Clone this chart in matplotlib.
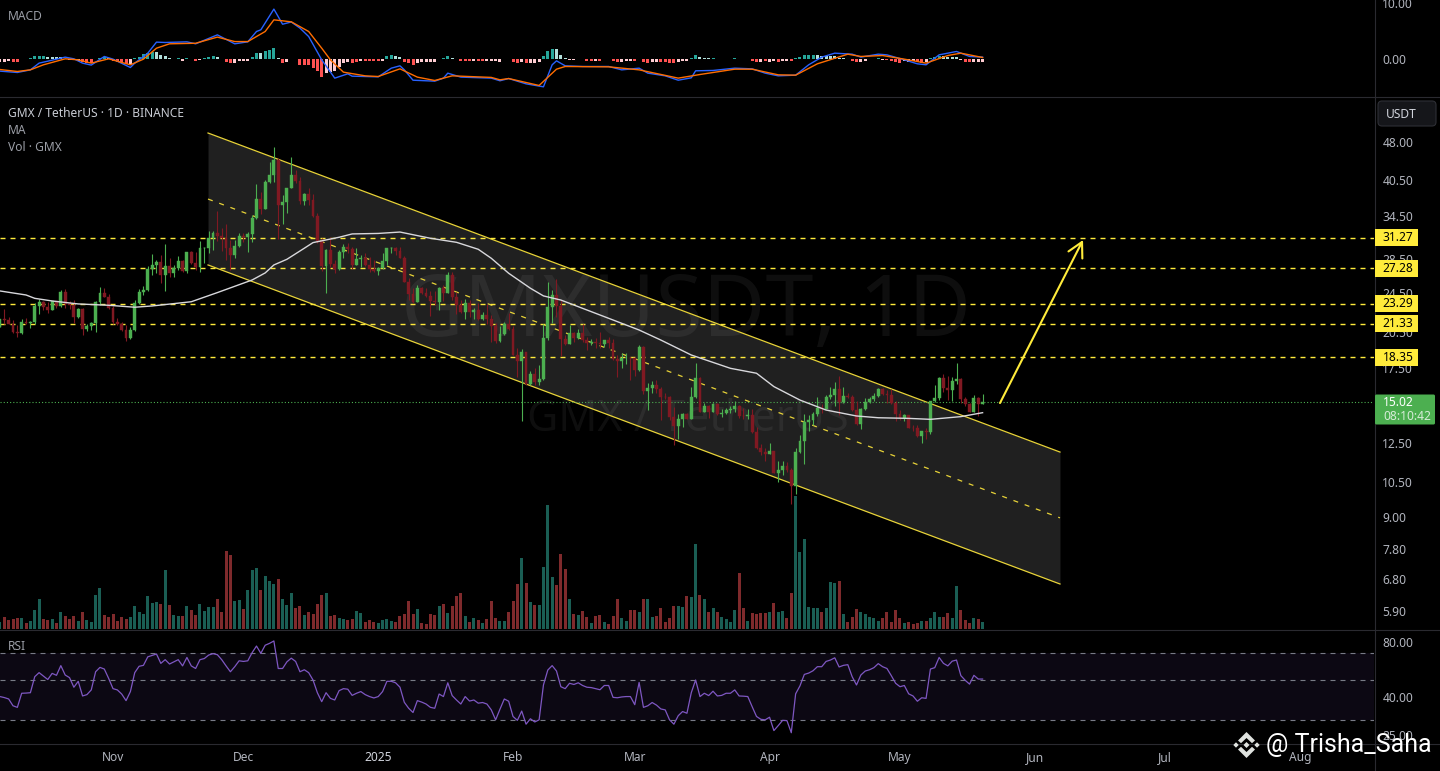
import numpy as np
import matplotlib
matplotlib.use("Agg")
import matplotlib.pyplot as plt
from matplotlib.patches import Rectangle, FancyBboxPatch, Polygon

plt.rcParams['font.family'] = ['Noto Sans', 'DejaVu Sans']
plt.rcParams['lines.scale_dashes'] = False

# ---------------- data: day index counted from 1 Nov 2024 ----------------
first_day = -26
closes = [21.77,21.67,21.29,20.54,20.42,21.45,21.35,21.51,23.07,23.48,
          23.00,22.66,23.61,23.07,24.56,23.28,23.14,22.00,22.76,20.81,
          21.10,21.38,23.48,24.49,24.05,22.87,
          21.48,21.29,20.72,19.96,20.72,23.38,24.56,24.78,27.17,27.71,
          28.08,26.50,27.58,26.74,27.34,28.20,26.97,29.37,27.95,27.45,
          29.90,29.95,31.27,31.97,31.55,31.22,29.90,28.98,30.17,31.55,
          31.36,31.83,34.23,37.20,35.58,40.14,41.43,44.29,36.20,36.71,
          39.08,41.43,40.32,36.88,38.05,37.04,34.49,30.84,27.58,29.63,
          27.83,27.21,29.37,30.00,29.72,27.71,28.42,28.59,27.71,27.17,
          26.97,27.34,28.20,29.90,29.95,29.54,28.59,25.68,24.34,23.48,
          25.00,24.45,24.13,23.59,23.51,25.00,24.45,26.50,24.02,23.18,
          22.46,23.38,22.46,22.66,21.80,22.13,21.77,21.10,19.72,20.36,
          21.29,20.81,18.53,18.04,18.78,16.28,17.03,16.42,16.65,19.99,
          22.97,24.23,23.07,19.90,19.47,20.45,19.99,20.45,19.81,19.55,
          19.67,19.52,19.47,19.81,19.58,18.20,18.04,18.29,18.32,18.25,
          17.33,19.21,15.78,15.99,16.21,15.92,15.36,15.34,14.03,13.49,
          13.92,14.24,13.92,15.36,16.72,14.36,14.75,14.36,14.89,14.24,
          14.32,14.49,14.53,14.75,14.11,14.09,14.15,13.13,12.23,12.01,
          11.90,12.07,10.94,11.08,11.28,11.08,10.32,12.01,12.62,13.74,
          13.86,14.24,14.62,14.57,15.36,15.50,15.92,15.02,15.43,15.34,
          14.47,13.62,14.55,15.02,15.22,15.43,15.92,15.57,15.50,14.95,
          14.24,13.99,14.17,13.37,13.36,12.90,13.19,13.13,15.08,15.29,
          16.72,15.99,15.85,16.50,16.65,15.22,14.89,14.36,15.29,14.89,
          15.02]
highs = [21.77,22.76,22.00,21.67,21.19,21.74,21.84,21.57,23.41,23.77,
         23.61,23.51,23.61,23.55,24.78,24.86,23.61,23.69,22.83,22.83,
         21.29,21.51,23.55,25.08,24.97,24.34,
         23.07,21.84,21.51,21.19,21.03,23.69,24.86,25.23,27.58,29.11,
         28.33,28.98,30.44,28.54,27.71,28.85,28.33,29.37,29.54,29.37,
         30.84,30.03,32.26,32.26,35.26,32.65,33.28,30.98,30.98,32.00,
         31.90,32.16,34.65,39.80,38.39,40.50,43.96,46.88,44.60,37.80,
         39.08,44.90,42.36,41.00,38.17,39.08,38.05,34.90,31.22,29.72,
         31.36,28.33,29.63,30.44,30.62,30.00,29.86,28.98,29.20,28.76,
         28.33,27.46,29.28,29.90,30.08,30.00,30.08,28.85,26.11,24.97,
         25.34,25.15,24.97,24.70,24.70,25.15,25.34,26.85,26.85,24.60,
         23.69,23.80,23.69,22.87,23.35,22.46,23.28,22.16,21.35,21.10,
         21.48,22.33,21.10,19.10,19.00,18.78,17.25,17.46,17.72,21.29,
         25.68,24.78,26.03,23.69,20.26,21.19,20.54,20.81,21.29,20.11,
         19.87,19.96,20.57,19.81,20.11,19.87,18.53,18.67,18.67,18.40,
         18.34,19.38,19.29,16.33,16.50,16.57,16.09,15.62,15.43,14.71,
         14.24,14.32,14.32,16.09,17.86,16.82,14.93,14.82,14.93,14.93,
         14.53,14.60,14.75,15.08,14.82,14.60,14.53,14.53,13.41,12.45,
         12.21,12.52,12.07,11.54,11.54,11.50,11.17,12.23,12.96,14.24,
         14.17,14.38,15.38,14.89,15.50,16.09,16.45,16.87,16.09,15.66,
         15.50,15.10,14.60,15.27,15.38,15.66,16.02,16.02,15.85,15.90,
         15.10,14.49,14.24,14.19,13.57,13.53,13.19,13.35,15.08,16.21,
         16.78,17.03,16.87,16.78,17.86,16.74,15.34,14.93,15.50,15.38,
         15.57]
lows = [21.03,21.29,21.29,20.42,20.11,20.36,21.29,20.91,21.29,22.26,
        22.66,22.39,22.66,22.87,22.94,22.83,22.79,21.35,21.87,20.26,
        20.66,20.72,20.54,23.20,23.98,22.79,
        21.29,21.22,20.66,19.75,19.93,20.66,23.28,24.23,24.67,26.50,
        26.70,25.60,24.70,26.26,26.26,27.09,26.85,26.77,27.83,27.09,
        26.89,27.90,29.20,29.63,30.88,29.50,28.33,27.09,28.55,30.03,
        30.70,29.37,30.75,34.07,34.80,35.58,39.97,40.14,31.08,33.28,
        34.90,39.08,39.90,36.39,36.20,36.20,34.27,30.53,27.00,24.49,
        27.50,26.70,27.09,28.55,29.20,27.21,27.71,27.42,27.58,26.89,
        26.85,26.50,27.21,27.71,29.20,28.98,28.59,25.68,23.69,23.35,
        23.48,24.34,23.98,22.06,23.18,22.66,23.59,24.45,23.69,22.26,
        22.33,21.77,22.00,21.77,21.67,21.67,21.29,19.67,19.52,19.63,
        20.26,20.72,18.53,16.82,13.82,16.21,16.21,16.21,16.21,16.57,
        19.81,21.35,22.00,18.45,19.38,19.47,19.63,19.90,19.67,18.95,
        19.38,19.10,19.10,19.18,19.10,18.12,16.78,17.49,17.80,16.57,
        16.87,17.25,15.58,14.49,15.66,15.66,13.86,15.20,13.86,12.40,
        12.71,13.41,13.90,13.92,15.29,14.36,14.36,13.99,14.36,14.19,
        14.03,14.24,14.28,14.34,13.96,13.90,13.94,13.06,12.18,11.85,
        11.55,11.90,10.92,10.51,10.84,11.00,9.54,9.96,11.95,11.38,
        13.21,13.55,14.11,14.28,14.57,15.24,14.75,14.17,14.97,15.27,
        14.43,13.57,13.31,14.49,14.93,15.08,15.38,15.50,14.93,14.89,
        13.82,13.86,13.78,13.35,13.21,12.82,12.52,12.71,13.02,15.02,
        15.15,15.71,15.15,15.08,16.28,14.97,14.75,14.34,14.36,14.11,
        14.89]
first_open = 21.03

volumes = [22,37,28,31,34,34,19,25,58,91,
           31,28,31,19,52,40,31,40,25,52,
           28,22,103,124,43,37,46,25,37,31,
           37,70,52,46,100,79,82,76,178,73,
           43,40,40,70,58,43,76,55,67,67,
           91,52,235,223,85,88,61,118,178,184,
           118,160,145,136,151,91,73,109,64,70,
           43,52,46,76,103,109,40,43,34,31,
           28,31,55,49,22,28,22,19,28,31,
           25,22,40,46,85,46,61,19,16,46,
           43,70,76,49,70,100,109,40,22,34,
           28,19,31,85,34,25,
           25,52,85,136,214,139,82,73,73,187,
           373,157,133,226,181,91,46,43,55,37,
           19,40,43,22,16,40,91,34,25,58,
           58,52,91,91,37,40,64,22,34,70,
           70,67,100,97,256,103,91,52,64,52,
           37,31,22,58,169,64,25,49,46,49,
           49,52,79,52,55,34,109,400,232,271,
           67,64,64,52,64,142,139,145,46,22,
           37,61,52,46,37,34,25,34,52,22,
           58,34,19,22,16,19,25,25,34,52,
           37,37,49,34,130,58,28,19,34,31,
           22]
up_bars_volume = [
    1,0,0,0,0,1,0,1,1,1, 0,0,1,0,1,0,0,0,1,0, 1,1,1,1,0,0,0,0,0,0,
    1,1,1,1,1,1,1,0,1,0, 1,1,0,1,0,0,1,1,1,1, 0,0,0,0,1,1,0,1,1,1,
    0,1,1,1,0,1,1,1,0,0, 1,0,0,0,0,1,0,0,1,1, 0,0,1,1,0,0,0,1,1,1,
    1,0,0,0,0,0,1,0,0,0, 0,1,0,1,0,0,0,1,0,1, 0,1,0,0,0,1,
    1,0,0,0,1,0,1,0,1,1, 1,1,0,0,0,1,0,1,0,0, 1,0,0,1,0,0,0,1,1,0,
    0,1,0,1,1,0,0,0,0,0, 1,1,0,1,1,0,1,0,1,0, 1,1,1,1,0,0,1,0,0,0,
    0,1,0,1,1,0,0,1,1,1, 1,1,1,0,1,1,1,0,1,0, 0,0,1,1,1,1,1,0,0,0,
    0,0,1,0,0,0,1,0,1,1, 1,0,0,1,1,0,0,0,1,0, 1]

macd_hist = [-.5,-.4,-.25,-.4,-.4,.05,.08,.3,.6,.65,
             .65,.5,.45,.4,.4,.1,-.1,-.1,-.2,-.4,
             -.6,-.7,.05,.2,.5,.3,
             -.3,-.5,-.6,-.8,-.8,.3,.5,.9,1.1,1.4,
             1.4,.8,.6,.25,.1,.25,-.2,.25,.1,-.2,
             -.1,.2,.4,.65,.45,.1,-.5,-.6,-.6,-.2,
             -.2,-.2,.5,1.2,1.1,1.5,1.7,2.1,.3,-.7,
             -.5,.1,.1,-.9,-.9,-1.0,-1.5,-2.0,-3.1,-2.5,
             -2.3,-2.0,-1.3,-.7,-.5,-.6,-.5,-.2,-.2,-.2,
             -.3,-.3,-.2,.6,.8,.7,.5,-.4,-.7,-1.0,
             -.6,-.5,-.4,-.4,-.4,.05,.3,.7,.3,.1,
             -.3,-.3,-.2,-.2,-.2,-.2,-.2,-.2,-.3,-.4,
             .05,.05,-.4,-.6,-.4,-.6,-.6,-.6,-.4,.7,
             1.6,1.9,1.8,.8,.3,-.05,-.05,.05,.05,-.2,
             -.2,-.2,-.2,.05,.05,-.2,-.4,-.4,-.2,-.2,
             -.2,.05,-.4,-.6,-.4,-.4,-.4,-.4,-.6,-.7,
             -.4,-.2,-.2,.2,.8,.4,.3,.2,.3,.05,
             .05,.05,.05,.3,.05,.05,.05,-.2,-.5,-.4,
             -.3,-.4,-.2,-.4,-.3,-.2,-.2,.3,.5,.8,
             .8,.8,.8,.6,.7,.7,.6,.2,.2,.05,
             -.3,-.5,-.4,-.3,.05,.05,.2,-.05,-.05,-.2,
             -.4,-.6,-.3,-.4,-.3,-.5,-.6,-.5,.2,.4,
             .7,.6,.5,.5,.5,-.1,-.5,-.5,-.5,-.5,
             -.5]
macd_hist_kinds = ("rrrRRTTTTT" "TtttttrrrR" "RRTTTt"
                   "RRRRrTTTTT" "tttttTrTtR" "rTTTttRRrr" "rrTTtTTTtR"
                   "rTTRRRRRRr" "rrrrrRRrRR" "RRrTTttRRR" "rrrrrTTTtt"
                   "RRRrRRrrrr" "TTRRrRrrrT" "TTtttrrTtR" "RrRTTRRrrr"
                   "RTRRrrRRRR" "rrrTTtttTt" "tTTTtttRRr" "RrrRrrRTTT"
                   "TTtttttttt" "RRrrttTrRR" "RRrrrRRrTT" "TttttrRRrr" "r")

macd_days = [-26,-22,-19,-17,-15,-11,-9,-7,-5,-2,0,4,5,8,10,12,17,19,24,28,31,33,34,37,39,41,43,45,48,51,54,55,
             61,64,66,67,69,74,76,77,80,87,89,91,95,99,101,102,104,108,114,117,121,123,127,130,133,134,138,143,
             147,150,153,157,160,163,166,170,172,176,178,182,185,187,190,194,197,200]
macd_line = [-2.08,-2.32,-1.85,-.65,-.3,.42,.12,-.65,-1.0,.54,.06,-1.43,-.65,1.13,3.1,3.04,3.15,2.8,4.4,2.8,3.15,
             5.0,5.3,9.0,6.3,6.7,5.6,4.1,-.06,-3.33,-2.56,-2.98,-3.1,-1.55,-1.13,-1.85,-3.7,-3.87,-3.33,-2.44,
             -3.15,-3.33,-3.8,-3.4,-4.35,-4.88,-.95,-.24,-1.13,-1.25,-1.25,-1.85,-1.55,-2.44,-2.92,-3.7,-3.27,
             -2.02,-1.96,-1.55,-1.67,-2.44,-2.92,-2.8,-.95,.42,1.13,.95,.42,.95,.83,-.06,-.77,-.95,.83,1.43,.54,.42]
signal_days = [-26,-22,-19,-16,-11,-8,-5,-1,4,7,10,13,19,24,28,31,35,37,41,45,48,50,53,58,61,66,70,74,78,87,89,91,
               98,102,104,114,121,130,135,143,147,153,157,162,169,172,177,182,187,192,195,200]
signal_line = [-1.79,-2.14,-1.85,-.95,.12,-.06,-.65,.12,-.95,.06,2.02,2.8,2.9,4.0,3.2,3.2,5.0,7.08,6.73,5.0,2.02,
               -.06,-2.26,-2.92,-3.04,-1.67,-3.15,-3.75,-2.92,-3.2,-3.63,-3.4,-4.64,-1.73,-1.25,-1.31,-1.85,-3.33,
               -2.68,-1.73,-1.73,-2.74,-2.8,-.77,.95,.54,.71,.06,-.65,.71,1.13,.36]

rsi = [40.4,39.9,39.2,36.0,35.3,42.1,42.2,42.4,51.8,54.5,
       52.2,50.0,54.0,52.7,59.5,52.9,51.2,45.4,48.9,40.7,
       41.4,43.9,55.1,58.2,57.0,50.7,
       44.6,43.9,41.7,38.4,43.0,54.5,59.0,59.7,66.4,67.6,
       68.8,61.2,64.1,60.7,62.4,64.1,59.3,65.9,59.3,57.4,
       64.1,65.0,67.9,69.1,68.2,64.1,59.3,55.1,58.7,63.2,
       62.7,63.2,70.0,76.0,69.4,76.8,78.6,81.0,57.4,57.4,
       62.4,65.3,62.7,55.1,56.5,54.5,49.7,42.4,37.9,42.4,
       39.5,38.7,43.5,44.6,44.3,41.0,42.1,43.0,41.4,40.4,
       39.7,40.4,43.0,48.9,48.9,48.0,45.4,37.6,34.9,33.1,
       38.4,37.7,36.8,35.3,34.9,41.7,40.4,48.0,40.9,38.7,
       36.8,40.4,38.2,38.7,37.2,37.5,36.8,34.2,30.2,34.5,
       39.2,38.1,31.5,30.0,33.7,28.6,30.6,29.4,30.2,46.7,
       56.3,59.5,55.6,45.7,44.6,47.7,47.0,48.0,46.4,45.4,
       45.2,44.6,44.0,46.4,46.4,40.0,39.8,40.2,40.4,40.4,
       36.5,48.2,35.3,36.0,37.5,36.3,34.6,34.2,30.2,28.6,
       31.8,33.5,32.8,42.4,49.7,40.4,42.1,40.9,43.2,40.7,
       41.0,42.1,42.1,43.9,40.7,40.6,40.4,35.6,31.5,30.4,
       30.2,31.2,26.4,28.1,30.0,29.9,25.7,41.8,46.2,53.3,
       54.2,55.8,58.7,58.7,62.7,63.8,65.6,58.5,59.7,60.2,
       51.8,46.7,52.9,55.6,56.5,58.0,61.0,58.7,57.4,52.5,
       47.7,45.7,46.4,41.8,40.7,38.1,39.8,39.5,57.0,58.0,
       65.9,61.2,59.3,62.9,63.8,52.5,49.5,47.2,52.7,50.3,
       50.3]

ma_days = [-26,-20,-18,-14,-8,-1,5,9,18,24,32,35,37,40,44,46,52,55,61,66,73,79,84,87,91,96,99,103,110,115,121,126,
           133,142,148,152,158,164,171,176,183,188,195,200]
ma_values = [24.67,24.23,23.87,23.59,23.28,23.14,22.94,23.07,23.51,24.49,25.91,26.74,27.71,28.42,29.86,30.62,31.36,
             31.83,31.90,32.10,31.22,30.66,29.72,28.55,26.70,24.97,24.13,23.69,22.49,21.67,20.72,19.81,18.53,17.46,
             17.08,16.09,15.15,14.49,14.11,14.00,13.96,13.90,14.07,14.32]

channel_days = [21.85, 217.8]
channel_top = [49.97, 12.01]
channel_mid = [37.20, 8.95]
channel_bottom = [27.71, 6.66]
target_levels = [31.27, 27.28, 23.29, 21.33, 18.35]
last_price = 15.02
arrow_days = [204.0, 223.1]
arrow_prices = [14.95, 30.98]

price_ticks = [48.0, 40.5, 34.5, 28.5, 24.5, 20.5, 17.5, 12.5, 10.5, 9.0, 7.8, 6.8, 5.9]
rsi_ticks = [80.0, 40.0, 25.0]
rsi_levels = [70, 50, 30]
macd_ticks = [10.0, 0.0]
month_days = [0, 30, 61, 92, 120, 151, 181, 212, 242, 273]
month_names = ["Nov", "Dec", "2025", "Feb", "Mar", "Apr", "May", "Jun", "Jul", "Aug"]

# ---------------- colours ----------------
BG = "#000000"
YEL = "#ffeb3b"
CHAN = "#e8d338"
GRN = "#4caf50"
RED = "#801922"
TXT = "#b2b5be"
SEP = "#2a2a30"
HIST = {"T": "#26a69a", "t": "#b2dfdb", "R": "#ff5252", "r": "#ffcdd2"}
PX = 0.72  # one pixel in points at 100 dpi
FS = 12 * PX
PAD = 6.0

W, H = 1440, 771
fig = plt.figure(figsize=(W / 100, H / 100), dpi=100, facecolor=BG)


def pane(x0, y0, x1, y1):
    a = fig.add_axes([x0 / W, 1 - y1 / H, (x1 - x0) / W, (y1 - y0) / H])
    a.set_facecolor("none")
    for s in a.spines.values():
        s.set_visible(False)
    a.set_xlim(-25.99, 290.02)
    a.set_xticks([])
    a.tick_params(axis="both", which="both", length=0)
    a.yaxis.tick_right()
    return a


days = np.arange(first_day, first_day + len(closes))
opens = np.array([first_open] + closes[:-1])
closes_a = np.array(closes)
up = closes_a >= opens

# ---------------- MACD ----------------
ax_m = pane(0, 0, 1374, 96)
ax_m.set_ylim(-6.52, 10.625)
ax_m.set_yticks(macd_ticks, [f"{v:.2f}" for v in macd_ticks], color=TXT, fontsize=FS)
ax_m.tick_params(axis="y", pad=PAD)
ax_m.bar(days, macd_hist, width=0.69, color=[HIST[k] for k in macd_hist_kinds], linewidth=0)
ax_m.plot(macd_days, macd_line, color="#2962ff", lw=1.0, solid_joinstyle="round")
ax_m.plot(signal_days, signal_line, color="#ff6d00", lw=1.0, solid_joinstyle="round")

# ---------------- volume (under the candles) ----------------
ax_v = pane(0, 97, 1374, 629)
ax_v.set_ylim(0, 1596)
ax_v.set_yticks([])
ax_v.bar(days, volumes, width=0.69, linewidth=0,
         color=["#1a5e54" if u else "#7f2a2c" for u in up_bars_volume])

# ---------------- price ----------------
ax = pane(0, 97, 1374, 629)
ax.set_yscale("log")
ax.set_ylim(5.447, 58.69)
ax.minorticks_off()
ax.set_yticks(price_ticks, [f"{v:.2f}" for v in price_ticks], color=TXT, fontsize=FS)
ax.tick_params(axis="y", pad=PAD, which="both", length=0)

ax.text(686 / W, 1 - 314 / H, "GMXUSDT, 1D", transform=fig.transFigure, ha="center", va="center",
        fontsize=62, color="white", alpha=0.06, zorder=1, clip_on=False)
ax.text(688 / W, 1 - 420 / H, "GMX / TetherUS", transform=fig.transFigure, ha="center", va="center",
        fontsize=31, color="white", alpha=0.06, zorder=1, clip_on=False)

ax.fill_between(channel_days, channel_top, channel_bottom, color="white", alpha=0.13, linewidth=0, zorder=0.5)
ax.plot(channel_days, channel_top, color=CHAN, lw=0.9, zorder=2)
ax.plot(channel_days, channel_bottom, color=CHAN, lw=0.9, zorder=2)
ax.plot(channel_days, channel_mid, color=CHAN, lw=0.9, ls=(0, (3.6, 5.0)), zorder=2)
for lvl in target_levels:
    ax.axhline(lvl, color=YEL, lw=1.0, ls=(0, (3.6, 3.6)), zorder=2)
ax.axhline(last_price, color=GRN, lw=0.8, ls=(0, (0.8, 1.5)), zorder=2)

colors = [GRN if u else RED for u in up]
ax.vlines(days, lows, highs, colors=colors, lw=0.8, zorder=3)
ax.bar(days, np.abs(closes_a - opens), bottom=np.minimum(closes_a, opens), width=0.66,
       color=colors, edgecolor=colors, linewidth=0.3, zorder=3.1)
ax.plot(ma_days, ma_values, color="#d8d8dc", lw=1.0, zorder=4, solid_joinstyle="round")
ax.annotate("", xy=(arrow_days[1], arrow_prices[1]), xytext=(arrow_days[0], arrow_prices[0]),
            arrowprops=dict(arrowstyle="->,head_length=0.75,head_width=0.4", color=YEL, lw=1.5,
                            shrinkA=0, shrinkB=0, mutation_scale=14), zorder=5)

# ---------------- RSI ----------------
ax_r = pane(0, 630, 1374, 743)
ax_r.set_yscale("log")
ax_r.set_ylim(22.6, 92.9)
ax_r.minorticks_off()
ax_r.set_yticks(rsi_ticks, [f"{v:.2f}" for v in rsi_ticks], color=TXT, fontsize=FS)
ax_r.tick_params(axis="y", pad=PAD, which="both", length=0)
ax_r.axhspan(rsi_levels[2], rsi_levels[0], color="#7e57c2", alpha=0.1, linewidth=0)
for lvl in rsi_levels:
    ax_r.axhline(lvl, color="#787b86", lw=0.8, ls=(0, (3.6, 3.6)))
ax_r.plot(days, rsi, color="#7e57c2", lw=0.9)
ax_r.set_xticks(month_days, month_names, fontsize=FS)
ax_r.tick_params(axis="x", pad=6, colors=TXT)
for lab, name in zip(ax_r.get_xticklabels(), month_names):
    if name == "2025":
        lab.set_fontweight("bold")
        lab.set_color("#d1d4dc")

# ---------------- overlay: separators, price tags, captions (pixel frame) ----------------
ov = fig.add_axes([0, 0, 1, 1], facecolor="none")
ov.set_xlim(0, W)
ov.set_ylim(H, 0)
ov.axis("off")
for y in (96.5, 629.5, 743.5):
    ov.plot([0, W], [y, y], color=SEP, lw=0.8)
ov.plot([1374.5, 1374.5], [0, H], color=SEP, lw=0.8)


def y_of(a, v):
    return H - a.transData.transform((0, v))[1]


for lvl in target_levels:
    yy = y_of(ax, lvl)
    ov.add_patch(Rectangle((1375, yy - 8.5), 43, 17, facecolor=YEL, edgecolor="none", zorder=5))
    ov.text(1398, yy, f"{lvl:.2f}", color="black", fontsize=FS, ha="center", va="center", zorder=6)

yy = y_of(ax, last_price)
ov.add_patch(FancyBboxPatch((1375, yy - 7.5), 60, 30, boxstyle="round,pad=0,rounding_size=1.5",
                            facecolor=GRN, edgecolor="none", zorder=5))
ov.text(1383, yy, f"{last_price:.2f}", color="white", fontsize=FS, fontweight="bold",
        ha="left", va="center", zorder=6)
ov.text(1383, yy + 14, "08:10:42", color="#d6ecd7", fontsize=FS, ha="left", va="center", zorder=6)

ov.add_patch(FancyBboxPatch((1378, 101), 58, 25, boxstyle="round,pad=0,rounding_size=4",
                            facecolor="#15161a", edgecolor="#2e2f35", lw=0.8, zorder=5))
ov.text(1401, 114.5, "USDT", color="#d1d4dc", fontsize=FS, fontweight="bold",
        ha="center", va="center", zorder=6)

ov.text(8, 113.5, "GMX / TetherUS · 1D · BINANCE", color="#c9ccd4", fontsize=FS, fontweight="bold",
        ha="left", va="center")
ov.text(8, 130.5, "MA", color="#9b9ea6", fontsize=FS, ha="left", va="center")
ov.text(8, 147.5, "Vol · GMX", color="#9b9ea6", fontsize=FS, ha="left", va="center")
ov.text(8, 16.5, "MACD", color="#9b9ea6", fontsize=FS, ha="left", va="center")
ov.text(8, 647, "RSI", color="#9b9ea6", fontsize=FS, ha="left", va="center")

# watermark: logo and handle
cx, cy = 1246.5, 745
LOGO = "#dfe3df"
for sy in (1, -1):
    pts = [(0, -13), (8.5, -4.5), (5.5, -1.8), (0, -7), (-5.5, -1.8), (-8.5, -4.5)]
    ov.add_patch(Polygon([(cx + a, cy + sy * b) for a, b in pts], facecolor=LOGO, edgecolor="none", zorder=7))
for dx, r in ((-10.5, 2.7), (10.5, 2.7), (0, 3.0)):
    ov.add_patch(Polygon([(cx + dx - r, cy), (cx + dx, cy - r), (cx + dx + r, cy), (cx + dx, cy + r)],
                         facecolor=LOGO, edgecolor="none", zorder=7))
ov.text(1432, 745, "@ Trisha_Saha", color="white", fontsize=25 * PX, ha="right", va="center",
        family="Roboto", zorder=7)

fig.savefig("out.png", dpi=100, facecolor=BG)
